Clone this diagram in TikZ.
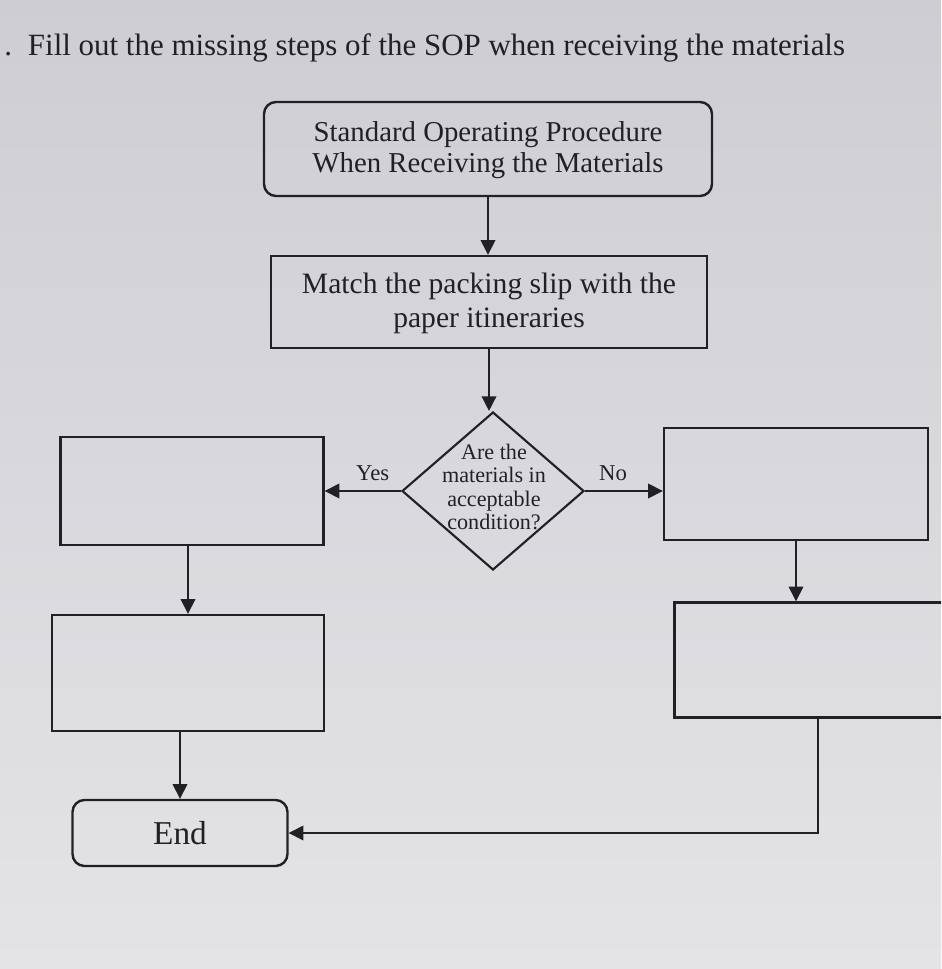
\documentclass[tikz,border=0pt]{standalone}
\usepackage{fontspec}
\setmainfont{Liberation Serif}
\usetikzlibrary{arrows.meta,shapes.geometric,calc}
\definecolor{ink}{RGB}{34,32,36}
\definecolor{papertop}{RGB}{206,205,211}
\definecolor{paperbot}{RGB}{228,228,230}
\tikzset{
  boxline/.style={draw=ink, line width=1.8pt, inner sep=0pt},
  procbox/.style={boxline, rectangle},
  termbox/.style={boxline, rectangle, rounded corners=9pt},
  decbox/.style={draw=ink, line width=1.6pt, shape=diamond, inner sep=0pt},
  arr/.style={draw=ink, line width=1.1pt, -{Triangle[length=11pt,width=11pt]}},
  lbl/.style={text=ink, inner sep=0pt}
}
\begin{document}
\begin{tikzpicture}[x=0.75pt, y=-0.75pt]
  \useasboundingbox (0,0) rectangle (941,969);
  \clip (0,0) rectangle (941,969);
  \shade[top color=papertop, bottom color=paperbot] (0,0) rectangle (941,969);

  % title
  \node[lbl, anchor=base west, font=\fontsize{23.2}{27}\selectfont] (title) at (4,56)
    {.\hspace{12pt}Fill out the missing steps of the SOP when receiving the materials};

  % start
  \node[termbox, minimum width=448*0.75pt, minimum height=94*0.75pt] (start) at (488,149) {};
  \node[lbl, align=center, font=\fontsize{21.6}{23.25}\selectfont] (starttxt) at (488,150)
    {Standard Operating Procedure\\When Receiving the Materials};

  % match
  \node[procbox, minimum width=436*0.75pt, minimum height=92*0.75pt] (match) at (489,302) {};
  \node[lbl, align=center, font=\fontsize{22.2}{25.5}\selectfont] (matchtxt) at (489,303)
    {Match the packing slip with the\\paper itineraries};

  % decision
  \node[decbox, minimum width=182*0.75pt, minimum height=158*0.75pt] (dia) at (493,491) {};
  \node[lbl, align=center, font=\fontsize{16.6}{17.6}\selectfont] (diatxt) at (494,487)
    {Are the\\materials in\\acceptable\\condition?};

  % empty boxes
  \node[procbox, minimum width=263*0.75pt, minimum height=108*0.75pt] (lb1) at (192,491) {};
  \node[procbox, minimum width=264*0.75pt, minimum height=112*0.75pt] (rb1) at (796,484) {};
  \node[procbox, minimum width=272*0.75pt, minimum height=116*0.75pt] (lb2) at (188,673) {};
  \node[procbox, minimum width=275*0.75pt, minimum height=115*0.75pt] (rb2) at (812,660) {};

  % end
  \node[termbox, minimum width=215*0.75pt, minimum height=66*0.75pt,
        font=\fontsize{25}{29}\selectfont, text=ink] (endn) at (180,833) {End};

  % connectors
  \draw[arr] (start.south) -- (start.south |- match.north);
  \draw[arr] (match.south) -- (match.south |- dia.north);
  \draw[arr] (dia.west) -- (dia.west -| lb1.east)
    node[lbl, pos=0.37, above=7pt, font=\fontsize{17}{19}\selectfont] (yes) {Yes};
  \draw[arr] (dia.east) -- (dia.east -| rb1.west)
    node[lbl, pos=0.36, above=7pt, font=\fontsize{17}{19}\selectfont] (no) {No};
  \draw[arr] (lb2.north |- lb1.south) -- (lb2.north);
  \draw[arr] (endn.north |- lb2.south) -- (endn.north);
  \draw[arr] (rb1.south) -- (rb1.south |- rb2.north);
  \coordinate (rbout) at ($(rb2.south)+(6,0)$);
  \draw[arr] (rbout) |- (endn.east);
\end{tikzpicture}
\end{document}
